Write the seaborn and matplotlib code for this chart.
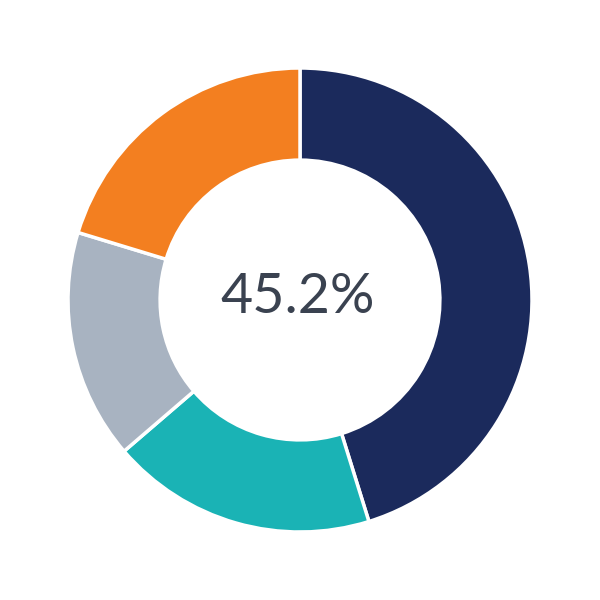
import matplotlib
matplotlib.use('Agg')
import matplotlib.pyplot as plt
import seaborn as sns

# Share of each segment, clockwise from 12 o'clock
segments = ['Navy', 'Teal', 'Gray', 'Orange']
shares = [45.2, 18.5, 16.0, 20.3]
center_label = '45.2%'

colors = ['#1b2a5c', '#1ab3b5', '#a8b3c1', '#f37f20']

sns.set_theme(style='white')
plt.rcParams['font.family'] = ['Lato', 'DejaVu Sans']

fig = plt.figure(figsize=(6, 6), dpi=100)
ax = fig.add_axes([0, 0, 1, 1])

ax.pie(shares, labels=None, colors=colors, startangle=90, counterclock=False,
       radius=1, wedgeprops=dict(width=0.397, edgecolor='white', linewidth=2.5))

ax.text(-0.01, 0.01, center_label, ha='center', va='center', fontsize=40, color='#3a4250')

lim = 300 / 232
ax.set_xlim(-lim, lim)
ax.set_ylim(-lim, lim)
ax.set_aspect('equal')
ax.axis('off')

fig.savefig('out.png', dpi=100, facecolor='white')
